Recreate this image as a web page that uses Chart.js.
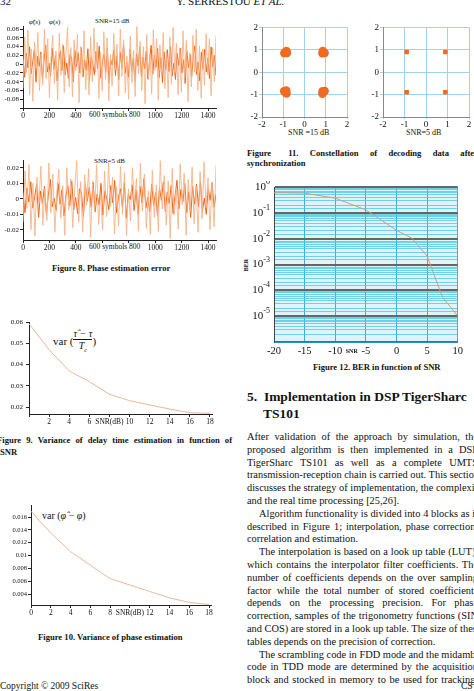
<!DOCTYPE html>
<html><head><meta charset="utf-8">
<script src="https://cdn.jsdelivr.net/npm/chart.js@4.4.1/dist/chart.umd.min.js"></script>
<style>
html,body{margin:0;padding:0;background:#fff;}
body{width:474px;height:691px;position:relative;overflow:hidden;font-family:"Liberation Serif","Times New Roman","DejaVu Serif",serif;color:#111;}
.c{position:absolute;}
.t{position:absolute;white-space:nowrap;line-height:1;}
.cap{position:absolute;font-weight:bold;font-size:8.6px;white-space:nowrap;}
.j{position:absolute;left:247px;width:231px;font-size:10.4px;line-height:12.8px;}
.j div{text-align:justify;text-align-last:justify;white-space:nowrap;height:12.8px;}
.j div.l{text-align-last:left;}
.j div.i{text-indent:12px;}
</style></head><body>
<div class="t" style="left:0;top:-4px;font-size:11px">32</div>
<div class="t" style="left:176px;top:-4px;font-size:11px">Y. SERRESTOU <i>ET AL.</i></div>

<div class="t" style="left:29px;top:19px;font-size:7px"><i>φ̂</i>(<i>s</i>)&nbsp;&nbsp;&nbsp;&nbsp;&nbsp;<i>φ</i>(<i>s</i>)</div>
<div class="t" style="left:95px;top:18px;font-size:7px">SNR=15 dB</div>
<div class="t" style="left:89px;top:111px;font-size:7.5px">600 symbols 800</div>
<div class="t" style="left:94px;top:158px;font-size:7px">SNR=5 dB</div>
<div class="t" style="left:89px;top:243px;font-size:7.5px">600 symbols 800</div>
<div class="cap" style="left:52px;top:263px">Figure 8. Phase estimation error</div>
<div class="t" style="left:53px;top:328px;font-size:11px">var (<span style="display:inline-block;vertical-align:middle;text-align:center;font-style:italic;font-size:10px;line-height:11px"><span style="border-bottom:1px solid #111;display:block">τ̂ − τ</span>T<sub style="font-size:6px">c</sub></span>)</div>
<div class="cap" style="left:-3px;top:435px;width:235px;text-align:justify;text-align-last:justify">Figure 9. Variance of delay time estimation in function of</div>
<div class="cap" style="left:0;top:447px">SNR</div>
<div class="t" style="left:42px;top:511px;font-size:10px">var (<i>φ̂</i> − <i>φ</i>)</div>
<div class="cap" style="left:38px;top:632px">Figure 10. Variance of phase estimation</div>
<div class="t" style="left:0;top:682px;font-size:9.5px">Copyright © 2009 SciRes</div>
<div class="t" style="left:461px;top:682px;font-size:9.5px">CS</div>

<div class="t" style="left:288px;top:129px;font-size:8px">SNR =15 dB</div>
<div class="t" style="left:406px;top:129px;font-size:8px">SNR=5 dB</div>
<div class="cap" style="left:247px;top:148px;width:231px;text-align:justify;text-align-last:justify">Figure&nbsp;&nbsp; 11. &nbsp;Constellation &nbsp;of &nbsp;decoding &nbsp;data &nbsp;after</div>
<div class="cap" style="left:247px;top:158px">synchronization</div>
<div class="t" style="left:240px;top:262px;font-size:6px;font-weight:bold;transform:rotate(-90deg)">BER</div>
<div class="cap" style="left:313px;top:362px">Figure 12. BER in function of SNR</div>
<div class="t" style="left:247px;top:390px;font-size:13.5px;font-weight:bold">5.&nbsp; Implementation in DSP TigerSharc</div>
<div class="t" style="left:263px;top:407px;font-size:13.5px;font-weight:bold">TS101</div>

<div class="j" style="top:431px">
<div>After validation of the approach by simulation, the</div>
<div>proposed algorithm is then implemented in a DSP</div>
<div>TigerSharc TS101 as well as a complete UMTS</div>
<div>transmission-reception chain is carried out. This section</div>
<div>discusses the strategy of implementation, the complexity,</div>
<div class="l">and the real time processing [25,26].</div>
<div class="i">Algorithm functionality is divided into 4 blocks as it</div>
<div>described in Figure 1; interpolation, phase correction,</div>
<div class="l">correlation and estimation.</div>
<div class="i">The interpolation is based on a look up table (LUT),</div>
<div>which contains the interpolator filter coefficients. The</div>
<div>number of coefficients depends on the over sampling</div>
<div>factor while the total number of stored coefficients</div>
<div>depends on the processing precision. For phase</div>
<div>correction, samples of the trigonometry functions (SIN</div>
<div>and COS) are stored in a look up table. The size of these</div>
<div class="l">tables depends on the precision of correction.</div>
<div class="i">The scrambling code in FDD mode and the midamble</div>
<div>code in TDD mode are determined by the acquisition</div>
<div>block and stocked in memory to be used for tracking,</div>
</div>

<script>
// ---- data ----
const symbolsMax = 1460;
// Figure 8, SNR=15 dB (thousandths)
const phaseEst15 = [12,-30,25,-8,40,-22,5,33,-41,18,-5,28,-35,10,44,-18,2,-27,36,-12,20,-38,8,30,-15,42,-25,3,-33,22,14,-40,31,-6,26,-20,38,-29,9,-14,35,-37,17,1,-24,29,-10,41,-32,6,23,-19,37,-43,11,-2,32,-26,19,-36,27,-9,45,-21,4,-30,34,-16,13,-39,24,-4,39,-28,16,-11,30,-34,7,43,-23,21,-7,36,-31,15,-42,28,-13,33,-17,40,-27,2,-35,25,-3,37,-20,10,-44,31,-8,22,-29,18,42,-24,5,-38,27,-12,34,-18,14,-33,39,-6,20,-26];
const phaseTrue15 = [-55,62,-20,78,-70,35,-85,50,-10,72,-60,25,-48,80,-33,58,-76,15,66,-44,30,-82,70,-25,45,-65,20,84,-52,38,-75,55,-15,68,-88,40,-30,76,-58,12,-70,63,-40,82,-18,50,-78,28,-62,74,-35,60,-84,22,-50,70,-12,46,-72,80,-28,56,-66,18,-80,64,-42,32,-74,86,-22,52,-60,40,-90,68,-36,24,-68,78,-14,58,-82,44,-26,72,-56,30,-76,62,-46,84,-20,48,-70,36,-64,76,-32,54,-86,26,-52,66,-18,80,-60,42,-78,34,-48,70,-24,58,-72,38,-40,64];
// Figure 8, SNR=5 dB (ten-thousandths)
const phaseEst5 = [40,-90,70,-20,110,-60,15,95,-120,50,-30,80,-100,25,125,-50,5,-75,100,-35,60,-110,20,85,-45,115,-70,10,-95,65,35,-115,90,-15,75,-55,105,-85,30,-40,100,-105,50,0,-70,85,-25,120,-90,15,65,-55,105,-125,30,-5,90,-75,55,-100,80,-25,130,-60,10,-85,95,-45,40,-110,70,-10,110,-80,45,-30,85,-95,20,120,-65,60,-20,100,-90,45,-120,80,-35,95,-50,115,-80,5,-100,70,-10,105,-55,30];
const phaseTrue5 = [-150,180,-60,220,-200,100,-240,140,-30,210,-170,70,-140,230,-90,160,-215,40,190,-125,85,-235,200,-70,130,-185,55,245,-150,110,-215,155,-40,195,-250,115,-85,220,-165,35,-200,180,-115,235,-50,140,-225,80,-175,210,-100,170,-240,65,-145,200,-35,130,-205,230,-80,160,-190,50,-230,185,-120,90,-210,245,-65,150,-170,115,-255,195,-105,70,-195,225,-40,165,-235,125,-75,205,-160,85,-215,175,-130,240,-55,135,-200,105,-180,215];
// Figure 9
const snr9 = [0,2,4,6,8,10,12,14,16,18];
const varDelay = [0.0593,0.047,0.037,0.032,0.026,0.023,0.021,0.019,0.0173,0.017];
// Figure 10
const snr10 = [0,2,4,6,8,10,12,14,16,17,18];
const varPhase = [0.0169,0.0135,0.0106,0.0085,0.0064,0.0054,0.0044,0.0034,0.0027,0.0025,0.0024];
// Figure 11
const const15 = [[-0.9,0.9],[-0.85,0.95],[-0.95,0.85],[-0.82,0.86],[0.9,0.9],[0.86,0.95],[0.95,0.86],[0.84,0.84],[-0.9,-0.9],[-0.84,-0.95],[-0.96,-0.85],[-0.86,-0.82],[0.9,-0.9],[0.95,-0.84],[0.84,-0.96],[0.85,-0.85]];
const const5 = [[-0.9,0.9],[0.9,0.9],[-0.9,-0.9],[0.9,-0.9]];
// Figure 12
const snr12 = [-20,-15,-10,-5,0,2.5,5,7.5,10];
const ber = [0.6,0.58,0.37,0.13,0.021,0.0105,0.0021,0.000055,0.00001];

// ---- helpers ----
const FONT = "'Liberation Serif','Times New Roman','DejaVu Serif',serif";
function box(left, top, plotW, plotH, yW, xH){
  const padT=6, padR=6;
  const d=document.createElement('div'); d.className='c';
  d.style.left=(left-yW)+'px'; d.style.top=(top-padT)+'px';
  d.style.width=(yW+plotW+padR)+'px'; d.style.height=(padT+plotH+xH)+'px';
  const c=document.createElement('canvas'); d.appendChild(c); document.body.appendChild(d);
  return {ctx:c, padT, padR};
}
function stepTicks(step){return s=>{const out=[];const k0=Math.ceil(s.min/step-1e-9),k1=Math.floor(s.max/step+1e-9);
  for(let k=k0;k<=k1;k++)out.push({value:+(k*step).toFixed(6)});s.ticks=out;};}
function axisX(min,max,step,xH,cb,size){
  return {type:'linear',min,max,afterFit:s=>{s.height=xH;},afterBuildTicks:stepTicks(step),
    border:{display:true,color:'#222',width:1},
    grid:{display:true,drawOnChartArea:false,tickLength:3,color:'#222'},
    ticks:{stepSize:step,color:'#111',font:{family:FONT,size:size||7.5},padding:1,maxRotation:0,autoSkip:false,callback:cb}};
}
function axisY(min,max,step,yW,cb,size,pad){
  return {type:'linear',min,max,afterFit:s=>{s.width=yW;},afterBuildTicks:stepTicks(step),
    border:{display:true,color:'#222',width:1},
    grid:{display:true,drawOnChartArea:false,tickLength:3,color:'#222'},
    ticks:{stepSize:step,color:'#111',font:{family:FONT,size:size||7},padding:pad||1,autoSkip:false,callback:cb}};
}
function base(b){return {responsive:true,maintainAspectRatio:false,animation:false,
  layout:{padding:{top:b.padT,right:b.padR,left:0,bottom:0}},
  plugins:{legend:{display:false},tooltip:{enabled:false}},elements:{point:{radius:0}}};}
function series(arr,scale){const step=symbolsMax/(arr.length-1);return arr.map((v,i)=>({x:i*step,y:v/scale}));}
function pairs(xs,ys){return xs.map((x,i)=>({x,y:ys[i]}));}
const symCb = v=>(v===600||v===800)?'':v;
const fmt = (d,lim)=>v=>Math.abs(v)>lim?'':(Math.abs(v)<1e-9?'0':(+v.toFixed(d)).toString());

// Figure 8 top
(function(){const b=box(23,26,193,82,23,14);
 new Chart(b.ctx,{type:'line',data:{datasets:[
  {data:series(phaseTrue15,1000),borderColor:'#f6b48a',borderWidth:0.9,tension:0},
  {data:series(phaseEst15,1000),borderColor:'#f06414',borderWidth:1,tension:0}]},
  options:Object.assign(base(b),{scales:{x:axisX(0,symbolsMax,200,14,symCb),y:axisY(-0.1,0.087,0.02,23,fmt(2,0.09))}})});})();
// Figure 8 bottom
(function(){const b=box(23,160,193,80,23,14);
 new Chart(b.ctx,{type:'line',data:{datasets:[
  {data:series(phaseTrue5,10000),borderColor:'#f6b48a',borderWidth:0.9,tension:0},
  {data:series(phaseEst5,10000),borderColor:'#f06414',borderWidth:1,tension:0}]},
  options:Object.assign(base(b),{scales:{x:axisX(0,symbolsMax,200,14,symCb),y:axisY(-0.0265,0.025,0.01,23,fmt(2,0.025))}})});})();
// Figure 9
(function(){const b=box(29,321,183,93,29,14);
 new Chart(b.ctx,{type:'line',data:{datasets:[{data:pairs(snr9,varDelay),borderColor:'#e9b896',borderWidth:1,tension:0}]},
  options:Object.assign(base(b),{scales:{
   x:axisX(0,18.2,2,14,v=>v===0?'':(v===8?'SNR(dB)':v)),
   y:axisY(0.0167,0.06,0.01,29,v=>v<0.019?'':(+v.toFixed(2)).toString(),7,3)}})});})();
// Figure 10
(function(){const b=box(31,505,180,100,31,14);
 new Chart(b.ctx,{type:'line',data:{datasets:[{data:pairs(snr10,varPhase),borderColor:'#e9b896',borderWidth:1,tension:0}]},
  options:Object.assign(base(b),{scales:{
   x:axisX(0,18.2,2,14,v=>v===10?'SNR(dB)':v),
   y:axisY(0.00229,0.01787,0.002,31,v=>v<0.0035?'':(+v.toFixed(3)).toString(),6.5)}})});})();
// Figure 11
function constel(left,w,pts,r,style){const b=box(left,27,w,90,14,12);
 new Chart(b.ctx,{type:'scatter',data:{datasets:[{data:pts.map(p=>({x:p[0],y:p[1]})),backgroundColor:'#f06a20',borderWidth:0,pointRadius:r,pointStyle:style}]},
  options:Object.assign(base(b),{scales:{
   x:{type:'linear',min:-2,max:2,afterFit:s=>{s.height=12;},border:{color:'#888'},grid:{color:'#9fd2ee',lineWidth:1,tickLength:2},ticks:{stepSize:1,color:'#111',font:{family:FONT,size:9},padding:0,maxRotation:0}},
   y:{type:'linear',min:-2,max:2,afterFit:s=>{s.width=14;},border:{color:'#888'},grid:{color:'#9fd2ee',lineWidth:1,tickLength:3},ticks:{stepSize:1,color:'#111',font:{family:FONT,size:9},padding:1}}}})});}
constel(262,85,const15,4.2,'circle');
constel(383,86,const5,3.2,'rect');
// Figure 12
(function(){const b=box(274,187,186,155,32,16);
 const labels={id:'berLabels',afterDraw(ch){const c=ch.ctx,ys=ch.scales.y,xs=ch.scales.x;c.save();c.fillStyle='#111';
  for(let e=0;e>=-5;e--){const py=ys.getPixelForValue(Math.pow(10,e));c.textAlign='right';c.textBaseline='middle';
   const ex=String(e);c.font='8px '+FONT;const ew=c.measureText(ex).width;const rx=ch.chartArea.left-4;c.fillText(ex,rx,py-5);
   c.font='11px '+FONT;c.fillText('10',rx-ew,py);}
  c.font='bold 6px '+FONT;c.textAlign='center';c.textBaseline='top';c.fillText('SNR',xs.getPixelForValue(-7.3),ch.chartArea.bottom+6);c.restore();}};
 const bg={id:'bg',beforeDraw(ch){const a=ch.chartArea,c=ch.ctx;c.save();c.fillStyle='#dff3fa';c.fillRect(a.left,a.top,a.right-a.left,a.bottom-a.top);c.restore();}};
 const isMajor=c=>{const v=c.tick&&c.tick.value;const l=Math.log10(v);return Math.abs(l-Math.round(l))<1e-6;};
 new Chart(b.ctx,{type:'line',data:{datasets:[{data:pairs(snr12,ber),borderColor:'#d49a78',borderWidth:1,tension:0}]},
  plugins:[bg,labels],
  options:Object.assign(base(b),{scales:{
   x:{type:'linear',min:-20,max:10,afterFit:s=>{s.height=16;},border:{color:'#2a8fc8'},grid:{color:'#3aaee0',lineWidth:1,tickLength:0},ticks:{stepSize:5,color:'#111',font:{family:FONT,size:10.5},padding:3,maxRotation:0}},
   y:{type:'logarithmic',min:1e-6,max:1,afterFit:s=>{s.width=32;},border:{color:'#444'},
     grid:{tickLength:0,color:c=>isMajor(c)?'#666':'#52c6e6',lineWidth:c=>isMajor(c)?2:0.8},
     ticks:{display:false,autoSkip:false}}}})});})();
</script>
</body></html>
